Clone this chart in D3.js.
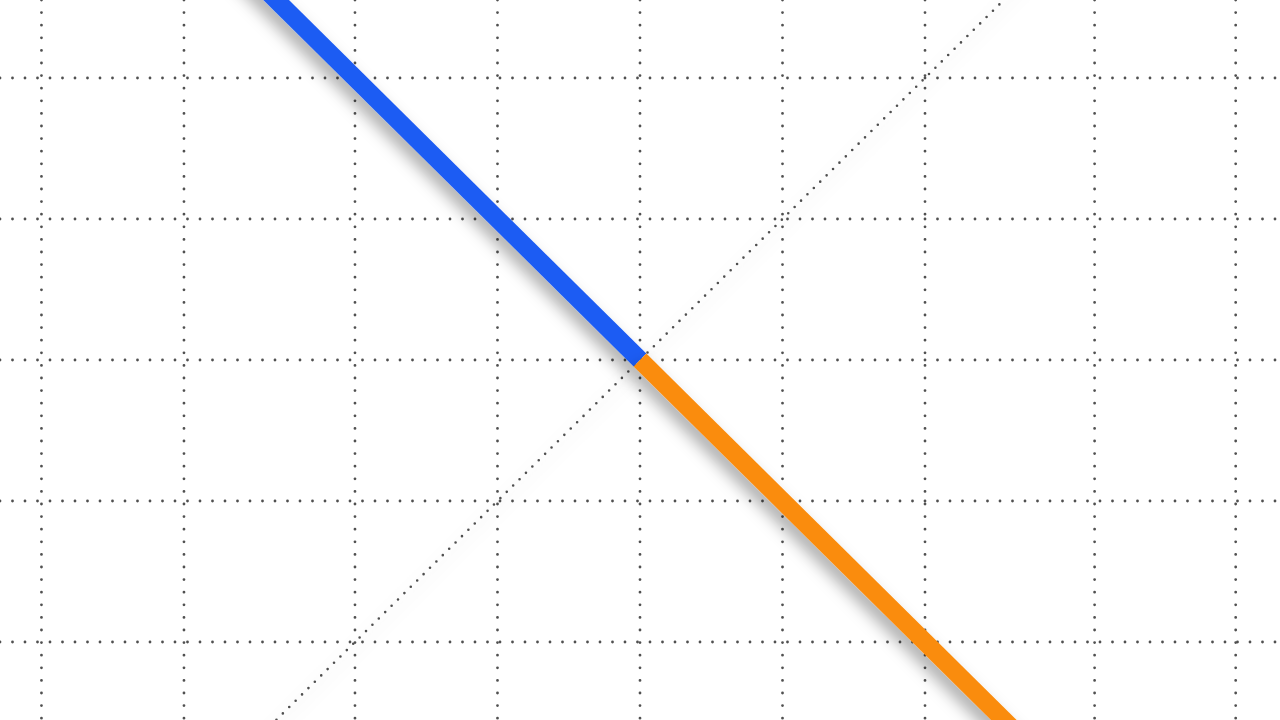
<!DOCTYPE html>
<html>
<head>
<meta charset="utf-8">
<script src="https://cdn.jsdelivr.net/npm/d3@7"></script>
<style>
  html, body { margin: 0; padding: 0; background: #fff; overflow: hidden; }
</style>
</head>
<body>
<div class="canvas"></div>
<script>
const dims = { width: 1280, height: 720 };

// grid positions (data units)
const xGrid = [-4.2, -3.2, -2, -1, 0, 1, 2, 3.19, 4.18];
const yGrid = [-2, -1, 0, 1, 2];

// series
const diagX = [-3, 3];
const diagY = [-3, 3];
const blueX = [-3, 0];
const blueY = [3, 0];
const orangeX = [0, 3];
const orangeY = [0, -3];

const svg = d3
  .select(".canvas")
  .append("svg")
  .attr("width", dims.width)
  .attr("height", dims.height);

const x = d3.scaleLinear().domain([-4.491, 4.491]).range([0, dims.width]);
const y = d3.scaleLinear().domain([-2.553, 2.553]).range([dims.height, 0]);

// soft drop shadow
const defs = svg.append("defs");
const shadow = defs
  .append("filter")
  .attr("id", "shadow")
  .attr("x", "-20%")
  .attr("y", "-20%")
  .attr("width", "140%")
  .attr("height", "140%");
shadow
  .append("feDropShadow")
  .attr("dx", -3)
  .attr("dy", 10)
  .attr("stdDeviation", 8)
  .attr("flood-color", "#000")
  .attr("flood-opacity", 0.34);

//grid lines
const grid = svg.append("g");
grid
  .selectAll("line.vx")
  .data(xGrid)
  .enter()
  .append("line")
  .attr("class", "vx")
  .attr("x1", (d) => x(d))
  .attr("x2", (d) => x(d))
  .attr("y1", 0)
  .attr("y2", dims.height)
  .attr("stroke", "#505050")
  .attr("stroke-width", 2.8)
  .attr("stroke-linecap", "round")
  .attr("stroke-dasharray", "0,12.6");

grid
  .selectAll("line.hy")
  .data(yGrid)
  .enter()
  .append("line")
  .attr("class", "hy")
  .attr("x1", 0)
  .attr("x2", dims.width)
  .attr("y1", (d) => y(d))
  .attr("y2", (d) => y(d))
  .attr("stroke", "#505050")
  .attr("stroke-width", 2.8)
  .attr("stroke-linecap", "round")
  .attr("stroke-dasharray", "0,12.5");

const line = d3
  .line()
  .x((d) => x(d[0]))
  .y((d) => y(d[1]));

const series = [
  { pts: d3.zip(diagX, diagY), colour: "#505050", width: 2.6, dash: "0,9", cap: "round" },
  { pts: d3.zip(blueX, blueY), colour: "#1b5cf3", width: 18, dash: null, cap: "butt" },
  { pts: d3.zip(orangeX, orangeY), colour: "#fa8c10", width: 18, dash: null, cap: "butt" },
];

svg
  .append("g")
  .selectAll("path")
  .data(series)
  .enter()
  .append("path")
  .attr("d", (d) => line(d.pts))
  .attr("fill", "none")
  .attr("stroke", (d) => d.colour)
  .attr("stroke-width", (d) => d.width)
  .attr("stroke-linecap", (d) => d.cap)
  .attr("stroke-dasharray", (d) => d.dash)
  .attr("filter", "url(#shadow)");
</script>
</body>
</html>
